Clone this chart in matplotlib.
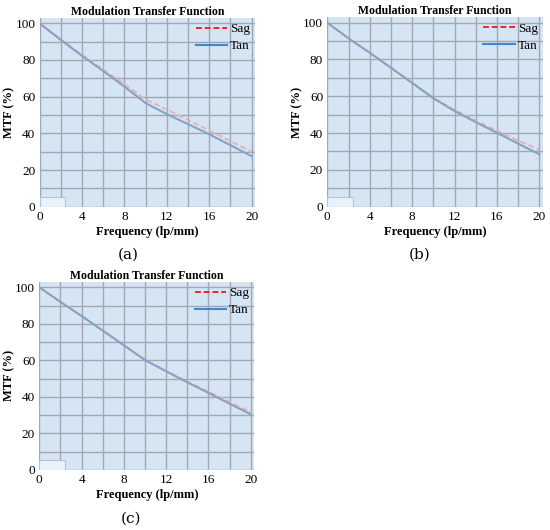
import matplotlib
matplotlib.use("Agg")
import matplotlib.pyplot as plt
from matplotlib.patches import Rectangle

plt.rcParams['font.family'] = ['Liberation Serif', 'DejaVu Serif']

freq = [0, 2, 4, 6, 8, 10, 12, 14, 16, 18, 20]

tan_a = [100, 91, 82.3, 74, 65.5, 56.5, 50.5, 45, 39.5, 33.5, 27.5]
sag_a = [100, 91.2, 82.8, 74.8, 66.8, 58.5, 53, 47.3, 41.5, 35.7, 30]

tan_b = [100, 91.5, 83.7, 75.5, 67.3, 59, 52, 46, 40.2, 34.3, 28.5]
sag_b = [100, 91.5, 83.7, 75.5, 67.3, 59, 52.6, 46.8, 41.2, 36, 31]

tan_c = [100, 92, 84.3, 76.3, 68.3, 60.2, 54, 48, 42.2, 36.3, 30.5]
sag_c = [100, 92, 84.3, 76.3, 68.3, 60.2, 54.2, 48.5, 42.8, 37.3, 31.8]

xticks = [0, 4, 8, 12, 16, 20]
yticks = [0, 20, 40, 60, 80, 100]
panel_labels = ['(a)', '(b)', '(c)']
title = 'Modulation Transfer Function'
xlabel = 'Frequency (lp/mm)'
ylabel = 'MTF (%)'

W, H = 550, 530
fig = plt.figure(figsize=(W / 100, H / 100), dpi=100)

# pixel layout: left (x=0), x=20 position, y=100 position, y=0 position
layouts = [
    (39.5, 251.7, 23.3, 206.7),
    (327.3, 539.3, 22.7, 206.7),
    (39.3, 250.7, 287.3, 470.0),
]
label_pos = [(128, 255), (420, 255), (131, 519)]

XMAX, YMAX = 20.35, 103
data = [(tan_a, sag_a), (tan_b, sag_b), (tan_c, sag_c)]

for (L, X20, T100, B), (tan, sag), lab, (lx, ly) in zip(layouts, data, panel_labels, label_pos):
    sx = (X20 - L) / 20.0
    sy = (B - T100) / 100.0
    wpx = sx * XMAX
    hpx = sy * YMAX
    ax = fig.add_axes([L / W, (H - B) / H, wpx / W, hpx / H])
    ax.set_facecolor('#d6e5f4')
    ax.set_xlim(0, XMAX)
    ax.set_ylim(0, YMAX)
    for s in ax.spines.values():
        s.set_visible(False)
    for gx in range(0, 21, 2):
        ax.axvline(gx, color='#a0a8b5', lw=1.0, zorder=1)
    for gy in range(0, 101, 10):
        ax.axhline(gy, color='#a0a8b5', lw=1.0, zorder=1)
    ax.add_patch(Rectangle((0, 0), 2.4, 5.5, facecolor='#e8f2fb',
                           edgecolor='#b9c3cf', lw=0.8, zorder=2))
    ax.plot(freq, sag, color='#e9afb8', lw=1.4, ls=(0, (3, 1.5)), zorder=3)
    ax.plot(freq, tan, color='#86a2c4', lw=1.5, zorder=4)
    ax.set_xticks(xticks)
    ax.set_yticks(yticks)
    ax.tick_params(axis='x', length=0, labelsize=9.5, pad=3)
    ax.tick_params(axis='y', length=0, labelsize=9.5, pad=3)
    ax.set_title(title, fontsize=8.5, fontweight='bold', pad=2)
    ax.set_xlabel(xlabel, fontsize=9, fontweight='bold', labelpad=2)
    ax.set_ylabel(ylabel, fontsize=9, fontweight='bold', labelpad=0)
    h1, = ax.plot([], [], color='#e8282a', ls=(0, (3, 1.5)), lw=1.4, label='Sag')
    h2, = ax.plot([], [], color='#3f86d4', lw=1.5, label='Tan')
    ax.legend(handles=[h1, h2], loc='upper right', frameon=False, fontsize=9.5,
              handlelength=2.4, handletextpad=0.2, labelspacing=0.35,
              borderaxespad=0.1, borderpad=0.3)
    fig.text(lx / W, 1 - ly / H, lab, ha='center', va='center', fontsize=11,
             family=['DejaVu Serif'])

fig.savefig('out.png', dpi=100)
